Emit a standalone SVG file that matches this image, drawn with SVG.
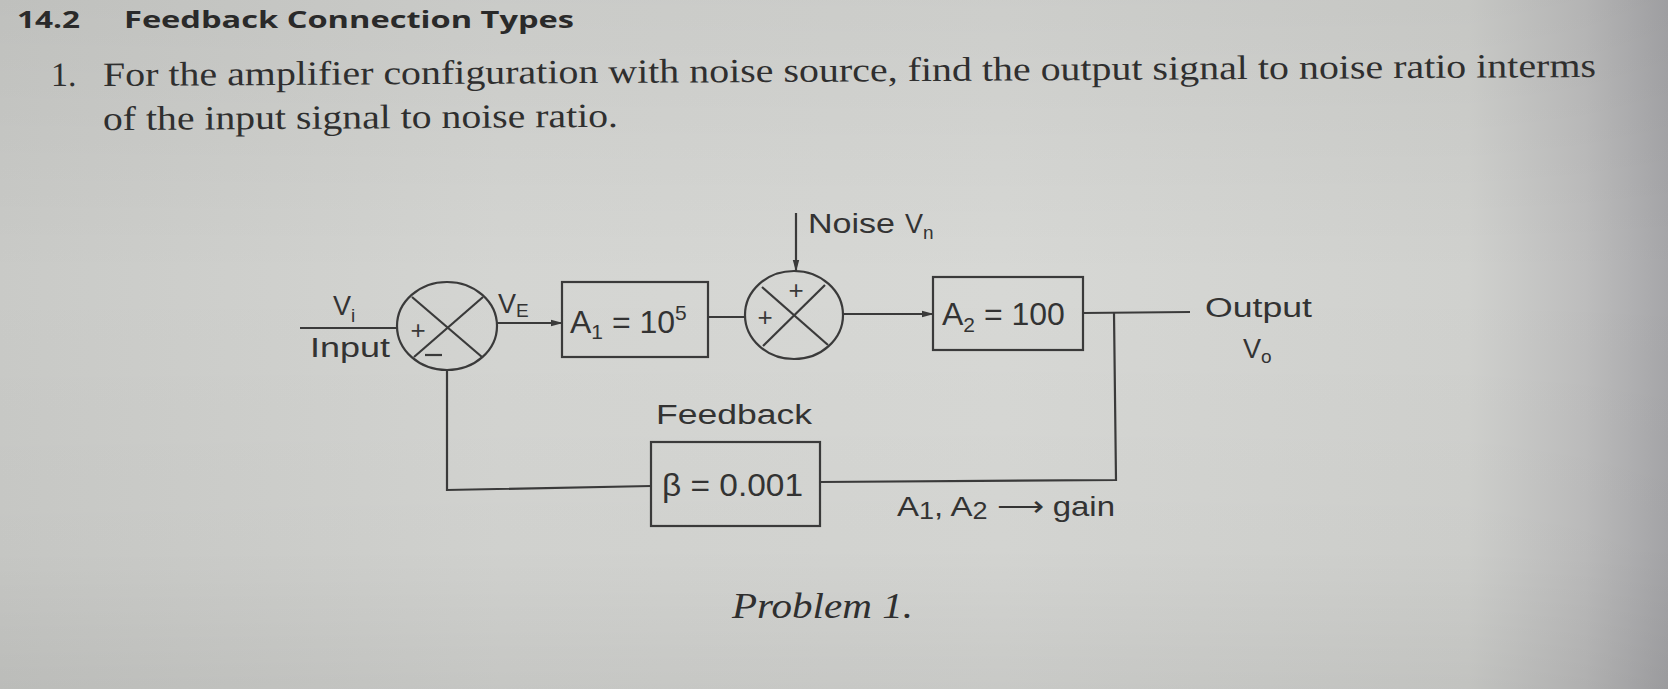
<svg xmlns="http://www.w3.org/2000/svg" width="1668" height="689" viewBox="0 0 1668 689">
<defs>
<linearGradient id="paper" x1="0" y1="0" x2="1" y2="0">
<stop offset="0" stop-color="#c9cac7"/>
<stop offset="0.3" stop-color="#d4d5d2"/>
<stop offset="0.6" stop-color="#d7d8d5"/>
<stop offset="0.88" stop-color="#d0d1ce"/>
<stop offset="0.95" stop-color="#bdbdbd"/>
<stop offset="1" stop-color="#a6a6a9"/>
</linearGradient>
<linearGradient id="shade" x1="0" y1="0" x2="0" y2="1">
<stop offset="0" stop-color="#000" stop-opacity="0.05"/>
<stop offset="0.4" stop-color="#000" stop-opacity="0"/>
<stop offset="0.8" stop-color="#000" stop-opacity="0.02"/>
<stop offset="1" stop-color="#000" stop-opacity="0.07"/>
</linearGradient>
<marker id="arr" markerWidth="12" markerHeight="8" refX="11" refY="4" orient="auto" markerUnits="userSpaceOnUse">
<path d="M0,0.8 L12,4 L0,7.2 Z" fill="#3a3a3a"/>
</marker>
</defs>
<style>
.ln{stroke:#3a3a3a;stroke-width:2.2;fill:none}
.box{stroke:#3a3a3a;stroke-width:2.2;fill:none}
.sans{font-family:"Liberation Sans",Arial,sans-serif;fill:#333333}
.serif{font-family:"Liberation Serif","Times New Roman",serif;fill:#2f2f2f}
.lbl{font-size:27px}
.blbl{font-size:32px}
.sym{font-family:"Liberation Sans",Arial,sans-serif;fill:#3a3a3a;font-size:26px}
</style>
<rect x="0" y="0" width="1668" height="689" fill="url(#paper)"/>
<rect x="0" y="0" width="1668" height="689" fill="url(#shade)"/>

<g id="page-text">
<text x="17" y="28" font-family="'Open Sans',sans-serif" font-weight="700" font-size="24" fill="#2a2a2a" textLength="63" lengthAdjust="spacingAndGlyphs">14.2</text>
<text x="124" y="28" font-family="'Open Sans',sans-serif" font-weight="700" font-size="24" fill="#2a2a2a" textLength="450" lengthAdjust="spacingAndGlyphs">Feedback Connection Types</text>
<text class="serif" x="51" y="86" font-size="34" transform="rotate(-0.35 51 86)">1.</text>
<text class="serif" x="103" y="86" font-size="34" textLength="1493" lengthAdjust="spacingAndGlyphs" transform="rotate(-0.35 103 86)">For the amplifier configuration with noise source, find the output signal to noise ratio interms</text>
<text class="serif" x="103" y="130" font-size="34" textLength="515" lengthAdjust="spacingAndGlyphs" transform="rotate(-0.35 103 130)">of the input signal to noise ratio.</text>
<text class="serif" x="732" y="618" font-size="36" font-style="italic" textLength="181" lengthAdjust="spacingAndGlyphs">Problem 1.</text>
</g>

<g id="connectors">
<line class="ln" x1="300" y1="328" x2="397" y2="328"/>
<line class="ln" x1="497" y1="323" x2="562" y2="323" marker-end="url(#arr)"/>
<line class="ln" x1="708" y1="317" x2="745" y2="317"/>
<line class="ln" x1="796" y1="213" x2="796" y2="271" marker-end="url(#arr)"/>
<line class="ln" x1="843" y1="314" x2="933" y2="314" marker-end="url(#arr)"/>
<line class="ln" x1="1083" y1="313" x2="1190" y2="312"/>
<polyline class="ln" points="1114,313 1116,480 820,482"/>
<polyline class="ln" points="651,486 447,490 447,370"/>
</g>

<g id="sum1">
<ellipse class="ln" cx="447" cy="326" rx="50" ry="44"/>
<line class="ln" x1="412" y1="297" x2="482" y2="357"/>
<line class="ln" x1="483" y1="297" x2="414" y2="357"/>
<text class="sym" x="418" y="339" text-anchor="middle">+</text>
<line class="ln" x1="425" y1="355" x2="442" y2="355"/>
</g>

<g id="a1">
<rect class="box" x="562" y="282" width="146" height="75"/>
<text class="sans blbl" x="570" y="333">A<tspan font-size="21" dy="6">1</tspan><tspan dy="-6"> = 10</tspan><tspan font-size="21" dy="-13">5</tspan></text>
</g>

<g id="sum2">
<ellipse class="ln" cx="794" cy="315" rx="49" ry="44"/>
<line class="ln" x1="762" y1="287" x2="828" y2="345"/>
<line class="ln" x1="825" y1="285" x2="763" y2="346"/>
<text class="sym" x="796" y="299" text-anchor="middle">+</text>
<text class="sym" x="765" y="326" text-anchor="middle">+</text>
</g>

<g id="a2">
<rect class="box" x="933" y="277" width="150" height="73"/>
<text class="sans blbl" x="942" y="325">A<tspan font-size="21" dy="7">2</tspan><tspan dy="-7"> = 100</tspan></text>
</g>

<g id="beta">
<rect class="box" x="651" y="442" width="169" height="84"/>
<text class="sans blbl" x="662" y="496" textLength="141" lengthAdjust="spacingAndGlyphs">β = 0.001</text>
</g>

<g id="labels">
<text class="sans lbl" x="333" y="315">V<tspan font-size="19" dy="7">i</tspan></text>
<text class="sans lbl" x="310" y="357" textLength="80" lengthAdjust="spacingAndGlyphs">Input</text>
<text class="sans lbl" x="498" y="313">V<tspan font-size="19" dy="4">E</tspan></text>
<text class="sans lbl" x="808" y="233" textLength="87" lengthAdjust="spacingAndGlyphs">Noise</text>
<text class="sans lbl" x="905" y="233">V<tspan font-size="19" dy="6">n</tspan></text>
<text class="sans lbl" x="1205" y="317" textLength="107" lengthAdjust="spacingAndGlyphs">Output</text>
<text class="sans lbl" x="1243" y="358">V<tspan font-size="19" dy="5">o</tspan></text>
<text class="sans lbl" x="656" y="424" textLength="156" lengthAdjust="spacingAndGlyphs">Feedback</text>
<text class="sans" font-size="28" x="897" y="516" textLength="218" lengthAdjust="spacingAndGlyphs">A<tspan font-size="23" dy="3">1</tspan><tspan dy="-3">, A</tspan><tspan font-size="23" dy="3">2</tspan><tspan dy="-3"> ⟶ gain</tspan></text>
</g>
</svg>
